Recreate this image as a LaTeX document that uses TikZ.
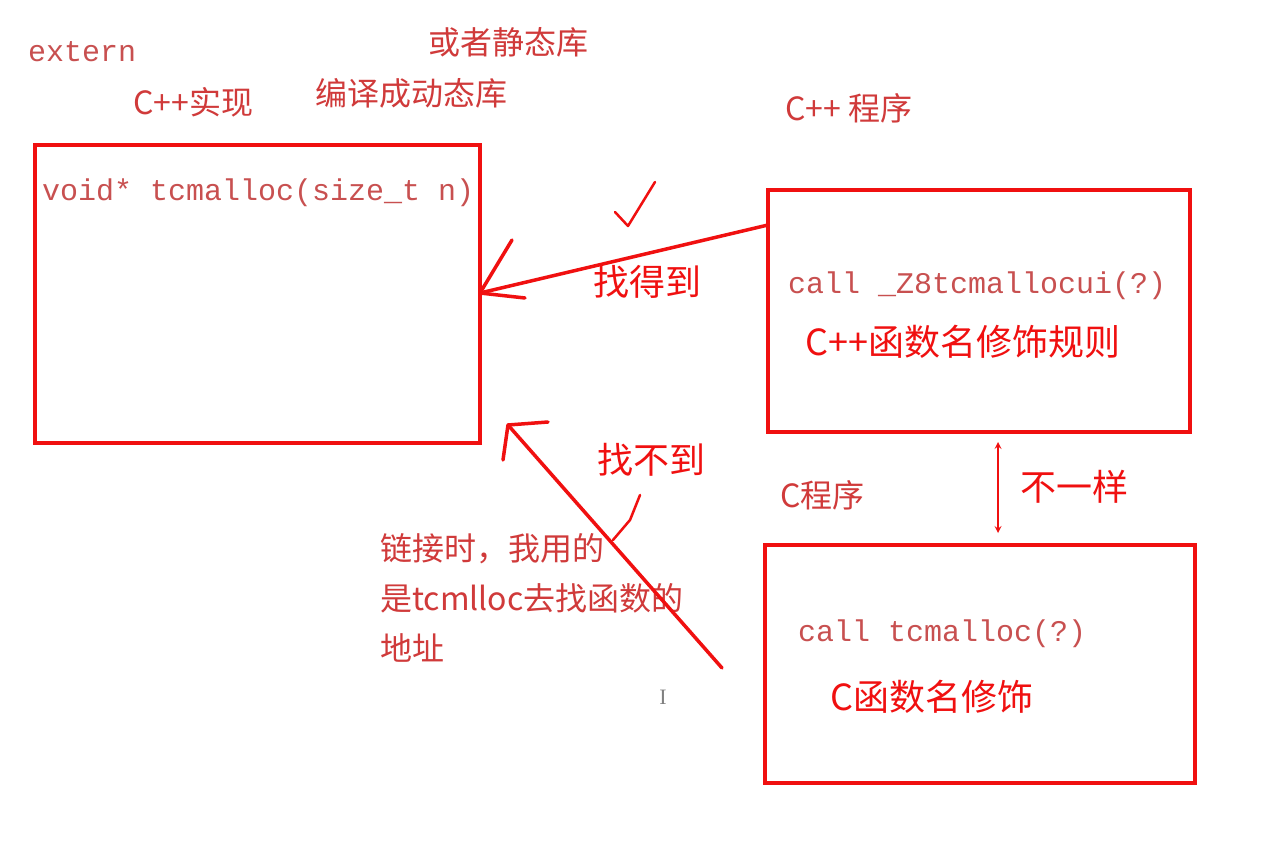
\documentclass[tikz,border=0pt]{standalone}
\usepackage{fontspec}
\setmainfont{Liberation Serif}
\newfontfamily\cjk{Noto Sans CJK SC}
\newfontfamily\code{Liberation Mono}
\definecolor{hand}{HTML}{D03A3A}
\definecolor{bright}{HTML}{F01010}
\definecolor{codec}{HTML}{C85050}
\tikzset{
  box/.style={draw=bright,line width=4pt},
  lbl/.style={text=hand,font=\cjk\fontsize{32}{50}\selectfont,anchor=west,inner sep=0},
  blbl/.style={text=bright,font=\cjk\fontsize{36}{40}\selectfont,anchor=west,inner sep=0},
  cd/.style={text=codec,font=\code\fontsize{30}{34}\selectfont,anchor=west,inner sep=0},
  pen/.style={draw=bright,line width=3.5pt,line cap=round,line join=round},
}
\begin{document}
\begin{tikzpicture}[x=1pt,y=-1pt]
\useasboundingbox[fill=white] (0,0) rectangle (1280,850);
\draw[box] (35,145) rectangle (480,443);
\draw[box] (768,190) rectangle (1190,432);
\draw[box] (765,545) rectangle (1195,783);
\node[cd] (ext) at (28,52) {extern};
\node[lbl] (cppimpl) at (133,102) {C++实现};
\node[lbl] (orstatic) at (428,42) {或者静态库};
\node[lbl] (dyn) at (315,93) {编译成动态库};
\node[lbl] (cppprog) at (785,108) {C++ 程序};
\node[cd] (decl) at (42,193) {void* tcmalloc(size\_t n)};
\node[blbl] (found) at (593,282) {找得到};
\node[cd] (callcpp) at (788,286) {call \_Z8tcmallocui(?)};
\node[blbl] (cpprule) at (805,342) {C++函数名修饰规则};
\node[blbl] (notfound) at (597,460) {找不到};
\node[lbl] (cprog) at (780,495) {C程序};
\node[blbl] (diff) at (1020,487) {不一样};
\node[lbl,align=left,anchor=north west] (link) at (380,533) {链接时，我用的\\是tcmlloc去找函数的\\地址};
\node[cd] (callc) at (798,634) {call tcmalloc(?)};
\node[blbl] (crule) at (830,697) {C函数名修饰};
\node[text=gray,font=\fontsize{22}{24}\selectfont] (cur) at (663,697) {I};
% arrows
\coordinate (t1) at (768,225); \coordinate (h1) at (480,293);
\draw[pen] (t1) -- (h1);
\draw[pen] (512,240) -- (h1) -- (525,298);
\coordinate (t2) at (722,668); \coordinate (h2) at (508,425);
\draw[pen] (t2) -- (h2);
\draw[pen] (503,460) -- (h2) -- (548,422);
\draw[pen,line width=2.5pt] (615,212) -- (628,226) -- (655,182);
\draw[pen,line width=2.5pt] (613,540) -- (630,520) -- (640,495);
\coordinate (d1) at (998,442); \coordinate (d2) at (998,533);
\draw[bright,line width=2pt,<->,>=stealth] (d1) -- (d2);
\end{tikzpicture}
\end{document}
